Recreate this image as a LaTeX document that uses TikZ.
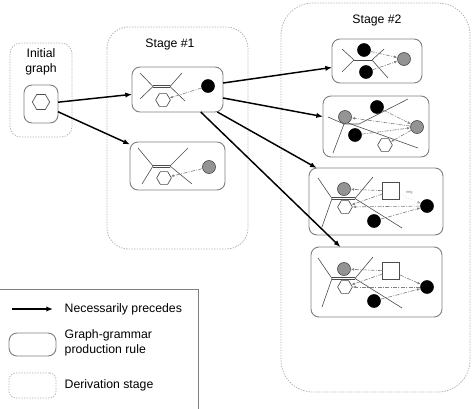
\documentclass[tikz,border=0pt]{standalone}
\usepackage{fontspec}
\setmainfont{Liberation Sans}
\usetikzlibrary{shapes.geometric,arrows.meta}
\begin{document}
\begin{tikzpicture}[x=0.75pt,y=-0.75pt,
  font=\fontsize{9.2}{10.8}\selectfont,
  stagebox/.style={draw=black!30, line width=0.6pt, dash pattern=on 1pt off 1pt},
  rulebox/.style={draw=black!50, line width=0.7pt, rounded corners=6pt, inner sep=0pt, outer sep=0pt},
  precede/.style={line width=1.1pt, -{Latex[length=5pt,width=4pt]}},
  mol/.style={draw=black!70, line width=0.45pt},
  blk/.style={circle, fill=black, draw=black, minimum size=9.75pt, inner sep=0pt},
  gry/.style={circle, fill=black!42, draw=black!70, line width=0.5pt, minimum size=9.75pt, inner sep=0pt},
  hex/.style={regular polygon, regular polygon sides=6, draw=black!70, line width=0.5pt, minimum size=11pt, inner sep=0pt},
  hexbig/.style={hex, minimum size=13pt},
  sq/.style={rectangle, draw=black!70, fill=white, line width=0.5pt, minimum size=12.75pt, inner sep=0pt},
  rel/.style={draw=black!50, line width=0.45pt, dash pattern=on 3pt off 1pt on 0.8pt off 1pt, -{Latex[length=2.5pt,width=2pt]}},
  neg/.style={draw=black!35, line width=0.4pt, dotted, -{Latex[length=2.5pt,width=2pt]}}
]
\useasboundingbox (0,0) rectangle (474,408);

% derivation stages
\draw[stagebox, rounded corners=8pt] (10,43) rectangle (72,137);
\draw[stagebox, rounded corners=16pt] (107,27) rectangle (248,249);
\draw[stagebox, rounded corners=24pt] (281,3) rectangle (470,392);
\node (t0) at (41,62) [align=center] {Initial\\graph};
\node (t1) at (170,44) {Stage \#1};
\node (t2) at (377,20) {Stage \#2};

% production rules
\node[rulebox, minimum width=25.5pt, minimum height=28.5pt] (r0) at (41,104) {};
\node[rulebox, minimum width=68.25pt, minimum height=33.75pt] (s1a) at (177.5,89.5) {};
\node[rulebox, minimum width=71.25pt, minimum height=36pt] (s1b) at (177.5,166) {};
\node[rulebox, minimum width=67.5pt, minimum height=33pt] (s2a) at (377,61) {};
\node[rulebox, minimum width=79.5pt, minimum height=45.75pt] (s2b) at (376,126.5) {};
\node[rulebox, minimum width=100.5pt, minimum height=50.25pt] (s2c) at (376,201.5) {};
\node[rulebox, minimum width=98.25pt, minimum height=52.5pt] (s2d) at (376.5,282) {};

% precedence arrows
\draw[precede] (r0) -- (s1a);
\draw[precede] (r0) -- (s1b);
\draw[precede] (s1a) -- (s2a);
\draw[precede] (s1a) -- (s2b);
\draw[precede] (s1a) -- (s2c);
\draw[precede] (s1a) -- (s2d);

% initial graph
\node[hexbig] (h0) at (41,102) {};

% stage 1a
\draw[mol] (140,73) -- (153,86.5) -- (140,99);
\draw[mol] (153,85.5) -- (170,85.5) (153,87.5) -- (170,87.5);
\draw[mol] (170,86.5) -- (182,73) (170,86.5) -- (185,101);
\node[hex] (h1a) at (163,100) {};
\node[blk] (b1a) at (208,86) {};
\draw[rel] (b1a) -- (h1a);

% stage 1b
\draw[mol] (138,148) -- (153,166) -- (142,184);
\draw[mol] (153,165) -- (170,165) (153,167) -- (170,167);
\draw[mol] (170,166) -- (188,148) (170,166) -- (192,184);
\node[hex] (h1b) at (164,178) {};
\node[gry] (g1b) at (209,167) {};
\draw[rel] (g1b) -- (h1b);

% stage 2a
\draw[mol] (342,49) -- (354,60) -- (342,72);
\draw[mol] (354,60) -- (372,60);
\draw[mol] (372,60) -- (384,49) (372,60) -- (388,78);
\node[blk] (b2a1) at (364,50) {};
\node[blk] (b2a2) at (366,72) {};
\node[gry] (g2a) at (404,59) {};
\draw[rel] (b2a1) -- (g2a);
\draw[rel] (b2a2) -- (g2a);

% stage 2b
\draw[mol] (328,117) -- (344,124) -- (333,153);
\draw[mol] (344,124) -- (359,124) -- (408,99);
\draw[mol] (348,123) -- (418,148);
\node[gry] (g2bl) at (345,117) {};
\node[blk] (b2bt) at (377,107) {};
\node[blk] (b2bb) at (355,135) {};
\node[gry] (g2br) at (417,127) {};
\node[hex] (h2b) at (385,145) {};
\draw[rel] (b2bt) -- (g2br);
\draw[rel] (b2bb) -- (g2br);
\draw[rel] (g2br) -- (g2bl);
\draw[rel] (g2br) -- (h2b);

% stage 2c
\draw[mol] (318,178) -- (332,198.5) -- (322,227);
\draw[mol] (332,197.5) -- (355,197.5) (332,199.5) -- (355,199.5);
\draw[mol] (355,198.5) -- (373,177) (355,198.5) -- (402,228);
\node[gry] (g2c) at (344,189) {};
\node[hex] (h2c) at (345,207) {};
\node[sq] (q2c) at (391,191) {};
\node[blk] (b2cr) at (427,206) {};
\node[blk] (b2cb) at (374,221) {};
\draw[rel] (q2c) -- (g2c);
\draw[rel] (q2c) -- (h2c);
\draw[rel] (b2cr) -- (h2c);
\draw[rel] (b2cb) -- (b2cr);
\draw[neg] (q2c) -- node[pos=0.45, above=-0.5pt, text=black!50, font=\fontsize{3}{3}\selectfont] {neg} (b2cr);

% stage 2d
\draw[mol] (318,258) -- (332,278.5) -- (322,307);
\draw[mol] (332,277.5) -- (355,277.5) (332,279.5) -- (355,279.5);
\draw[mol] (355,278.5) -- (373,257) (355,278.5) -- (402,308);
\node[gry] (g2d) at (344,269) {};
\node[hex] (h2d) at (345,287) {};
\node[sq] (q2d) at (391,271) {};
\node[blk] (b2dr) at (427,287) {};
\node[blk] (b2db) at (374,301) {};
\draw[rel] (q2d) -- (g2d);
\draw[rel] (q2d) -- (h2d);
\draw[rel] (b2dr) -- (h2d);
\draw[rel] (b2db) -- (b2dr);
\draw[rel] (q2d) -- (b2dr);

% legend
\draw[draw=black!50, line width=0.7pt] (-2,289) rectangle (198,415);
\coordinate (la) at (12,309);
\coordinate (lb) at (53,309);
\draw[precede] (la) -- (lb);
\node[anchor=west] (lt1) at (60,309) {Necessarily precedes};
\node[rulebox, minimum width=35.25pt, minimum height=17.25pt] (lr) at (32.5,344.5) {};
\node[anchor=west, align=left] (lt2) at (60,343) {Graph-grammar\\production rule};
\node[stagebox, rounded corners=5pt, minimum width=35.25pt, minimum height=18.75pt, inner sep=0pt] (ls) at (32.5,385.5) {};
\node[anchor=west] (lt3) at (60,385) {Derivation stage};
\end{tikzpicture}
\end{document}
